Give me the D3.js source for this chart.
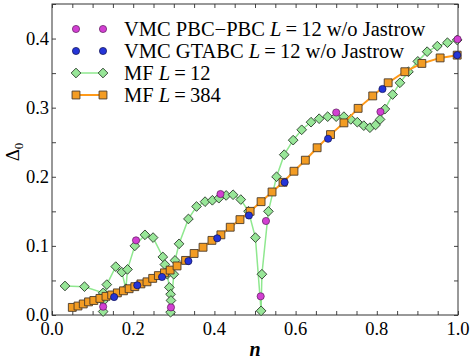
<!DOCTYPE html>
<html><head><meta charset="utf-8">
<script src="https://cdn.jsdelivr.net/npm/d3@7"></script>
<style>body{margin:0;background:#fff}svg{display:block}text{font-family:"Liberation Serif","DejaVu Serif",serif}</style>
</head><body><div id="chart"></div>
<script>
// MF L=12 (green diamonds)
const mf12N = [0.032,0.080,0.126,0.128,0.126,0.126,0.135,0.157,0.172,0.182,0.186,0.204,0.229,0.249,0.273,0.278,0.284,0.289,0.292,0.293,0.292,0.300,0.303,0.313,0.336,0.356,0.377,0.395,0.411,0.429,0.446,0.465,0.484,0.501,0.515,0.517,0.533,0.553,0.572,0.594,0.615,0.638,0.658,0.679,0.700,0.719,0.736,0.752,0.768,0.783,0.797,0.808,0.820,0.839,0.857,0.878,0.901,0.924,0.949,0.974,0.998];
const mf12V = [0.042,0.041,0.032,0.025,0.020,0.005,0.044,0.070,0.062,0.038,0.066,0.100,0.116,0.112,0.084,0.073,0.059,0.040,0.030,0.021,0.004,0.059,0.079,0.103,0.139,0.157,0.164,0.166,0.169,0.173,0.174,0.167,0.150,0.112,0.006,0.059,0.150,0.200,0.232,0.253,0.268,0.279,0.284,0.287,0.287,0.287,0.283,0.279,0.274,0.271,0.275,0.283,0.298,0.319,0.336,0.352,0.367,0.381,0.389,0.394,0.398];
// MF L=384 (orange squares)
const mf384N = [0.050,0.064,0.077,0.090,0.103,0.118,0.133,0.147,0.161,0.176,0.190,0.204,0.219,0.234,0.248,0.262,0.277,0.291,0.308,0.329,0.350,0.372,0.394,0.416,0.439,0.463,0.488,0.515,0.542,0.569,0.596,0.624,0.653,0.686,0.719,0.754,0.790,0.828,0.869,0.911,0.956,0.998];
const mf384V = [0.011,0.013,0.016,0.019,0.021,0.024,0.027,0.029,0.032,0.035,0.038,0.041,0.045,0.048,0.053,0.057,0.061,0.065,0.071,0.079,0.089,0.098,0.108,0.116,0.127,0.138,0.150,0.164,0.178,0.192,0.208,0.224,0.242,0.261,0.278,0.299,0.317,0.336,0.352,0.364,0.372,0.376];
// VMC PBC-PBC (magenta)
const pbcN = [0.126,0.207,0.293,0.415,0.514,0.527,0.700,0.809,0.999];
const pbcV = [0.012,0.108,0.011,0.175,0.027,0.136,0.293,0.294,0.399];
// VMC GTABC (blue)
const gtN = [0.153,0.210,0.271,0.336,0.407,0.485,0.573,0.680,0.814,0.998];
const gtV = [0.026,0.043,0.055,0.078,0.111,0.144,0.192,0.255,0.327,0.376];
const xTicks = [0.0,0.2,0.4,0.6,0.8,1.0];
const yTicks = [0.0,0.1,0.2,0.3,0.4];

const W=474,H=364;
const m={l:52,r:16,t:4,b:49};
const svg=d3.select("#chart").append("svg").attr("width",W).attr("height",H);
const x=d3.scaleLinear().domain([0,1]).range([m.l,W-m.r]);
const y=d3.scaleLinear().domain([0,0.45]).range([H-m.b,m.t]);
const fmt=d3.format(".1f");

// axes with inward ticks
const minorX=d3.range(0,1.0001,0.05), minorY=d3.range(0,0.4501,0.05);
svg.append("g").attr("transform",`translate(0,${y(0)})`)
  .call(d3.axisBottom(x).tickValues(minorX).tickSize(-4).tickFormat(""))
  .call(g=>g.select(".domain").remove());
svg.append("g").attr("transform",`translate(0,${y(0.45)})`)
  .call(d3.axisTop(x).tickValues(minorX).tickSize(-4).tickFormat(""))
  .call(g=>g.select(".domain").remove());
svg.append("g").attr("transform",`translate(${x(0)},0)`)
  .call(d3.axisLeft(y).tickValues(minorY).tickSize(-4).tickFormat(""))
  .call(g=>g.select(".domain").remove());
svg.append("g").attr("transform",`translate(${x(1)},0)`)
  .call(d3.axisRight(y).tickValues(minorY).tickSize(-4).tickFormat(""))
  .call(g=>g.select(".domain").remove());
svg.selectAll(".tick line").attr("stroke","#444");

svg.append("rect").attr("x",x(0)).attr("y",y(0.45)).attr("width",x(1)-x(0)).attr("height",y(0)-y(0.45))
  .attr("fill","none").attr("stroke","#333").attr("stroke-width",1);

// tick labels
svg.append("g").selectAll("text").data(xTicks).join("text")
  .attr("x",d=>x(d)).attr("y",y(0)+20).attr("text-anchor","middle")
  .attr("font-size",18.5).text(d=>fmt(d));
svg.append("g").selectAll("text").data(yTicks).join("text")
  .attr("x",x(0)-3).attr("y",d=>y(d)+6).attr("text-anchor","end")
  .attr("font-size",18.5).text(d=>fmt(d));

svg.append("text").attr("x",(x(0)+x(1))/2).attr("y",356).attr("text-anchor","middle")
  .attr("font-size",20).attr("font-style","italic").attr("font-weight","bold").text("n");
const yl=svg.append("text").attr("transform",`translate(19,152) rotate(-90)`)
  .attr("text-anchor","middle").attr("font-size",19);
yl.append("tspan").text("Δ");
yl.append("tspan").attr("font-size",13).attr("dy",4).text("0");

const green={line:"#8fe88f",fill:"#98e698",stroke:"#2a3a2a"};
const orange={line:"#ff9a1a",fill:"#f39c23",stroke:"#4a3a2a"};
const magenta={fill:"#d23fd2",stroke:"#5a1a5a"};
const blue={fill:"#2535d8",stroke:"#101050"};

const diamond=d3.symbol().type(d3.symbolDiamond2).size(60);
const square=d3.symbol().type(d3.symbolSquare).size(62);

const g12=mf12N.map((n,i)=>[n,mf12V[i]]);
const g384=mf384N.map((n,i)=>[n,mf384V[i]]);
const line=d3.line().x(d=>x(d[0])).y(d=>y(d[1]));

svg.append("path").datum(g12).attr("d",line).attr("fill","none").attr("stroke",green.line).attr("stroke-width",1.5);
svg.append("g").selectAll("path").data(g12).join("path")
  .attr("transform",d=>`translate(${x(d[0])},${y(d[1])})`).attr("d",diamond)
  .attr("fill",green.fill).attr("stroke",green.stroke).attr("stroke-width",0.9);

svg.append("path").datum(g384).attr("d",line).attr("fill","none").attr("stroke",orange.line).attr("stroke-width",2);
svg.append("g").selectAll("path").data(g384).join("path")
  .attr("transform",d=>`translate(${x(d[0])},${y(d[1])})`).attr("d",square)
  .attr("fill",orange.fill).attr("stroke",orange.stroke).attr("stroke-width",0.9);

svg.append("g").selectAll("circle").data(pbcN.map((n,i)=>[n,pbcV[i]])).join("circle")
  .attr("cx",d=>x(d[0])).attr("cy",d=>y(d[1])).attr("r",3.6)
  .attr("fill",magenta.fill).attr("stroke",magenta.stroke).attr("stroke-width",0.7);
svg.append("g").selectAll("circle").data(gtN.map((n,i)=>[n,gtV[i]])).join("circle")
  .attr("cx",d=>x(d[0])).attr("cy",d=>y(d[1])).attr("r",3.6)
  .attr("fill",blue.fill).attr("stroke",blue.stroke).attr("stroke-width",0.7);

// legend
const leg=svg.append("g");
const rows=[
  {t:["VMC PBC−PBC ","L","\u2009=\u200912 w/o Jastrow"],type:"c",s:magenta},
  {t:["VMC GTABC ","L","\u2009=\u200912 w/o Jastrow"],type:"c",s:blue},
  {t:["MF ","L","\u2009=\u200912"],type:"d",s:green},
  {t:["MF ","L","\u2009=\u2009384"],type:"s",s:orange}
];
rows.forEach((r,i)=>{
  const yy=29+i*22, x1=76, x2=103;
  if(r.type!=="c") leg.append("line").attr("x1",x1).attr("x2",x2).attr("y1",yy).attr("y2",yy)
      .attr("stroke",r.s.line).attr("stroke-width",r.type==="s"?2:1.5);
  [x1,x2].forEach(xx=>{
    if(r.type==="c") leg.append("circle").attr("cx",xx).attr("cy",yy).attr("r",3.6)
      .attr("fill",r.s.fill).attr("stroke",r.s.stroke).attr("stroke-width",0.7);
    else leg.append("path").attr("transform",`translate(${xx},${yy})`).attr("d",r.type==="d"?diamond:square)
      .attr("fill",r.s.fill).attr("stroke",r.s.stroke).attr("stroke-width",0.9);
  });
  const t=leg.append("text").attr("x",124).attr("y",yy+7).attr("font-size",20.5);
  t.append("tspan").text(r.t[0]);
  t.append("tspan").attr("font-style","italic").text(r.t[1]);
  t.append("tspan").text(r.t[2]);
});
</script></body></html>
